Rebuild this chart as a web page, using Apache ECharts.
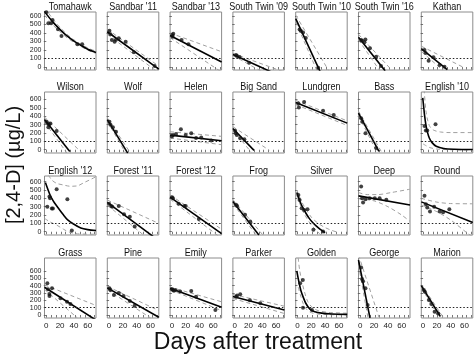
<!DOCTYPE html>
<html><head><meta charset="utf-8">
<script src="https://cdn.jsdelivr.net/npm/echarts@6/dist/echarts.min.js"></script>
<style>html,body{margin:0;padding:0;background:#fff}#c{width:474px;height:355px}</style>
</head><body><div id="c"></div>
<script>
const lakes = ["Tomahawk","Sandbar '11","Sandbar '13","South Twin '09","South Twin '10","South Twin '16","Kathan",
"Wilson","Wolf","Helen","Big Sand","Lundgren","Bass","English '10",
"English '12","Forest '11","Forest '12","Frog","Silver","Deep","Round",
"Grass","Pine","Emily","Parker","Golden","George","Marion"];

const observed = [
 [[0,645],[3,515],[7,515],[9,553],[17,443],[22,365],[45,267],[52,267]],
 [[0.5,427],[2,385],[4,318],[8,298],[10,320],[14,337],[24,298],[36,173],[66,12]],
 [[1,357],[2,390],[0.5,375],[14,318],[24,267]],
 [[2,141],[3.5,130],[7,118],[21,50]],
 [[3,440],[5,425],[8,405],[12,340],[30,-10]],
 [[1.2,318],[2.5,310],[7.4,325],[6,290],[14,220],[23,121],[30,12]],
 [[2,200],[3.5,165],[8,74],[15,114],[24,24],[31,4]],
 [[0.5,335],[2.5,315],[4,300],[6,315],[3,270],[15,225]],
 [[0.5,335],[2,300],[5.5,268],[10,215]],
 [[0,157],[1.7,175],[6,189],[13,245],[20,175],[28,197],[35,140],[42.5,145],[57,110]],
 [[0.6,228],[1.5,197],[3,177],[8,138],[14,126]],
 [[1.3,552],[2,505],[9.6,571],[37,465],[52.5,414]],
 [[1.2,375],[2.8,335],[7.5,197],[23,20]],
 [[2,284],[4,230],[6,230],[18,304]],
 [[1.5,300],[4.6,421],[5.5,400],[8,280],[9.5,280],[15,510],[30.5,390],[37,15]],
 [[0,334],[3,310],[4.6,300],[14,310],[21.6,211],[30,180],[37,63]],
 [[0.2,414],[1.5,400],[9.8,334],[18,310],[20,310],[39,152]],
 [[2,322],[3.5,310],[15,203],[22.5,123]],
 [[1.3,441],[3,380],[6,283],[9.6,262],[14.5,271],[23,24],[37,4]],
 [[1.2,541],[2.6,402],[4,350],[7.5,390],[13.5,402],[21,402],[28,402],[37.7,382]],
 [[2,430],[4,330],[6,290],[10,242],[16,300],[24,242],[29,235],[38,271]],
 [[1.5,432],[2.5,350],[4.5,286],[4.6,260],[8.3,364],[20.6,228],[30,182],[35,150]],
 [[0.5,364],[2,340],[7,273],[14,300],[21,260],[30,191],[37,127]],
 [[0,350],[1.5,341],[3,330],[5,341],[12,320],[28,327],[35,250],[63,68]],
 [[2,250],[3.5,266],[8,282],[22,200],[37,160]],
 [[3.8,432],[7.7,477],[8,100],[20.9,68]],
 [[1.2,646],[2.6,491],[4,460],[7.5,364],[10.6,136]],
 [[1,341],[2.5,318],[8.3,205],[12,150],[16.7,45],[22,20]]
];

const fitted = [
 [[-2.6,660],[0,625],[10,525],[20,440],[30,365],[40,305],[50,255],[60,210],[72,172]],
 [[-2.6,415],[72,-25]],
 [[-2.6,370],[72,60]],
 [[-2.6,148],[72,-128]],
 [[-2.6,570],[34,-75]],
 [[-2.6,350],[36,-45]],
 [[-2.6,215],[35,-30]],
 [[-2.6,360],[34,-20]],
 [[-2.6,360],[27,-40]],
 [[-2.6,175],[72,108]],
 [[-2.6,253],[28,-8]],
 [[-2.6,565],[72,318]],
 [[-2.6,437],[27,-20]],
 [[-0.5,620],[1,500],[2,420],[4,300],[6,220],[9,140],[13,85],[19,42],[30,15],[45,6],[72,3]],
 [[-1.3,590],[5,450],[10,370],[16,300],[25,200],[31,143],[40,90],[50,44],[60,25],[72,14]],
 [[-2.6,352],[72,-107]],
 [[-2.6,414],[72,-22]],
 [[-2.6,362],[35,-38]],
 [[-1,470],[2,400],[5,335],[8,285],[12,225],[17,160],[22,110],[27,70],[32,35],[37,5],[40,-12]],
 [[-2.6,430],[72,320]],
 [[-2.6,358],[72,110]],
 [[-2.6,378],[72,-69]],
 [[-2.6,369],[72,-31]],
 [[-2.6,364],[72,105]],
 [[-2.6,252],[72,68]],
 [[-1,600],[1,500],[3,410],[5,330],[8,250],[12,160],[18,80],[25,45],[35,25],[50,14],[72,8]],
 [[-2.6,750],[14,-40]],
 [[-2.6,400],[25,-20]]
];

const upperCI = [
 [[-2.6,700],[10,560],[20,465],[30,385],[40,320],[50,268],[60,225],[72,185]],
 [[-2.6,445],[72,10]],
 [[-2.6,400],[72,180]],
 [[-2.6,160],[72,-60]],
 [[-2.6,610],[45,-40]],
 [[-2.6,385],[46,-40]],
 [[-2.6,245],[60,-10]],
 [[-2.6,390],[52,-40]],
 [[-2.6,380],[31,-40]],
 [[-2.6,215],[72,160]],
 [[-2.6,275],[50,-5]],
 [[-2.6,590],[72,345]],
 [[-2.6,460],[31,-30]],
 [[1.5,720],[4,470],[7,340],[10,275],[15,235],[25,212],[40,205],[72,205]],
 [[3,680],[8,620],[15,580],[25,560],[35,545],[45,550],[55,590],[65,630],[72,660]],
 [[-2.6,380],[72,100]],
 [[-2.6,440],[72,30]],
 [[-2.6,385],[41,-40]],
 [[-1,500],[5,380],[10,300],[20,175],[30,100],[40,50],[50,15],[60,-10]],
 [[-2.6,470],[10,445],[25,445],[45,470],[72,510]],
 [[-2.6,400],[20,355],[40,338],[72,335]],
 [[-2.6,410],[72,130]],
 [[-2.6,390],[72,60]],
 [[-2.6,380],[72,180]],
 [[-2.6,280],[72,120]],
 [[1,780],[3,620],[6,470],[10,320],[15,180],[22,100],[30,60],[45,35],[72,25]],
 [[-2.6,820],[27,-30]],
 [[-2.6,420],[29,-30]]
];

const lowerCI = [
 [[-2.6,610],[10,490],[20,415],[30,345],[40,290],[50,242],[60,198],[72,160]],
 [[-2.6,385],[72,-70]],
 [[-2.6,345],[72,-60]],
 [[-2.6,135],[72,-200]],
 [[-2.6,530],[28,-40]],
 [[-2.6,320],[28,-40]],
 [[-2.6,185],[28,-35]],
 [[-2.6,330],[30,-40]],
 [[-2.6,340],[24,-40]],
 [[-2.6,140],[72,60]],
 [[-2.6,235],[24,-30]],
 [[-2.6,540],[72,290]],
 [[-2.6,410],[24,-30]],
 [[0,70],[5,45],[10,25],[20,8],[40,0],[72,-3]],
 [[-2.6,160],[5,120],[15,80],[25,30],[32,0],[45,-25],[72,-30]],
 [[-2.6,320],[50,-40]],
 [[-2.6,390],[72,-80]],
 [[-2.6,340],[31,-40]],
 [[0,430],[5,300],[10,210],[20,80],[28,10],[34,-40]],
 [[-2.6,395],[20,370],[40,300],[60,200],[72,123]],
 [[-2.6,320],[20,240],[40,140],[64,-16],[72,-60]],
 [[-2.6,350],[45,-40]],
 [[-2.6,345],[60,-40]],
 [[-2.6,345],[72,60]],
 [[-2.6,225],[72,20]],
 [[1,380],[4,280],[8,160],[12,90],[18,40],[28,15],[45,5],[72,2]],
 [[-2.6,680],[11,-30]],
 [[-2.6,380],[22,-30]]
];

const yTickValues = [0,100,200,300,400,500,600];
const xTickValues = [0,7,14,21,28,35,42,49,56,63,70];
const xLabelValues = [0,20,40,60];
const threshold = 100;
const yTitle = "[2,4-D] (\u00b5g/L)";
const xTitle = "Days after treatment";

// layout
const colLeft0 = 44.5, colStep = 62.8, panelW = 51.5;
const rowTop = [12, 92, 176, 258];
const rowH = [58, 61, 59, 60];
const yMin = [-35, -39, -39, -41];
const yMax = [647, 690, 668, 777];
const xMin = -2.6, xMax = 72;

const chart = echarts.init(document.getElementById('c'), null, {renderer:'canvas'});
const grids = [], xAxes = [], yAxes = [], series = [], graphics = [];
const FONT = 'Liberation Sans, Arial, sans-serif';

lakes.forEach((name, i) => {
  const r = Math.floor(i / 7), c = i % 7;
  const left = colLeft0 + colStep * c;
  grids.push({left: left, top: rowTop[r], width: panelW, height: rowH[r], show: true,
    borderColor: '#8c8c8c', borderWidth: 1, backgroundColor: 'transparent'});
  xAxes.push({type: 'value', gridIndex: i, min: xMin, max: xMax,
    axisLine: {show: false}, splitLine: {show: false},
    axisTick: {show: true, inside: false, length: 2.5, customValues: xTickValues, lineStyle: {color: '#555', width: 0.8}},
    axisLabel: {show: r === 3, customValues: xLabelValues, fontSize: 8, margin: 4, color: '#222', fontFamily: FONT}});
  yAxes.push({type: 'value', gridIndex: i, min: yMin[r], max: yMax[r],
    axisLine: {show: false}, splitLine: {show: false},
    axisTick: {show: true, inside: false, length: 2.5, customValues: yTickValues, lineStyle: {color: '#555', width: 0.8}},
    axisLabel: {show: c === 0, customValues: yTickValues, fontSize: 7, margin: 3, color: '#222', fontFamily: FONT}});
  const dash = {color: '#a0a0a0', width: 1, type: [4, 3]};
  series.push({type: 'line', xAxisIndex: i, yAxisIndex: i, data: upperCI[i], showSymbol: false, symbol: 'none',
    smooth: upperCI[i].length > 2 ? 0.3 : false, lineStyle: dash, silent: true, clip: true, z: 2});
  series.push({type: 'line', xAxisIndex: i, yAxisIndex: i, data: lowerCI[i], showSymbol: false, symbol: 'none',
    smooth: lowerCI[i].length > 2 ? 0.3 : false, lineStyle: dash, silent: true, clip: true, z: 2});
  series.push({type: 'line', xAxisIndex: i, yAxisIndex: i, data: fitted[i], showSymbol: false, symbol: 'none',
    smooth: fitted[i].length > 2 ? 0.3 : false, lineStyle: {color: '#000', width: 1.6}, silent: true, clip: true, z: 4,
    markLine: {silent: true, symbol: 'none', label: {show: false}, animation: false,
      lineStyle: {type: [1.5, 2], color: '#222', width: 1}, data: [{yAxis: threshold}]}});
  series.push({type: 'scatter', xAxisIndex: i, yAxisIndex: i, data: observed[i], symbolSize: 4,
    itemStyle: {color: '#111'}, silent: true, clip: true, z: 5});
  graphics.push({type: 'text', x: left + panelW / 2, y: rowTop[r] - 5, scaleX: 0.86,
    style: {text: name, fontSize: 10.5, fontFamily: FONT, fill: '#111', textAlign: 'center', textVerticalAlign: 'middle'}});
});

graphics.push({type: 'text', x: 14, y: 165, rotation: Math.PI / 2,
  style: {text: yTitle, fontSize: 20, fontFamily: FONT, fill: '#111', textAlign: 'center', textVerticalAlign: 'middle'}});
graphics.push({type: 'text', x: 258, y: 343,
  style: {text: xTitle, fontSize: 23, fontFamily: FONT, fill: '#111', textAlign: 'center', textVerticalAlign: 'middle'}});

chart.setOption({animation: false, grid: grids, xAxis: xAxes, yAxis: yAxes, series: series, graphic: graphics});
</script>
</body></html>
